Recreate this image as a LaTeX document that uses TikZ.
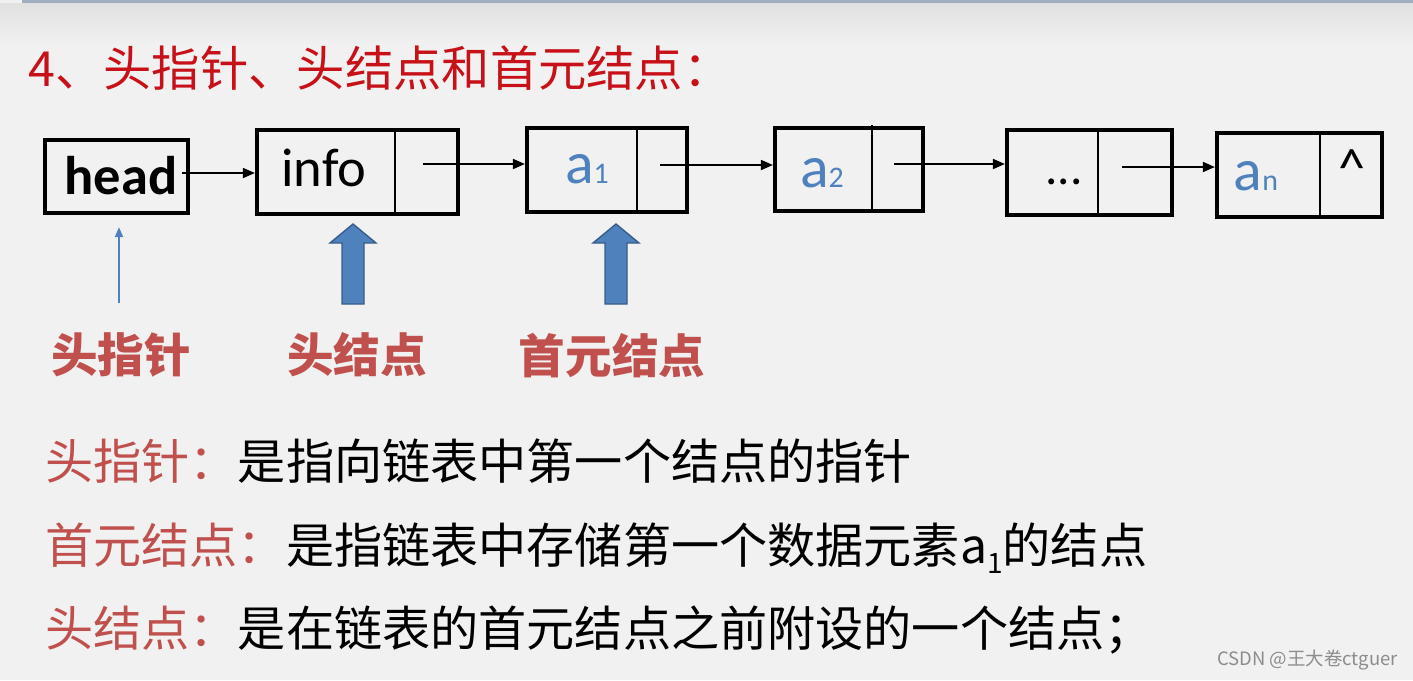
\documentclass[tikz,border=0pt]{standalone}
\usepackage{fontspec}
\setmainfont{Carlito}
\newfontfamily\cjk{Noto Sans CJK SC}
\usetikzlibrary{arrows.meta, positioning, calc}
\definecolor{titlered}{RGB}{200,16,24}
\definecolor{labelred}{RGB}{192,80,77}
\definecolor{datablue}{RGB}{79,129,189}
\definecolor{arrowedge}{RGB}{56,93,138}
\definecolor{slidebg}{RGB}{241,241,241}
\definecolor{topline}{RGB}{160,174,192}

\begin{document}
\begin{tikzpicture}[
	x=0.02cm, y=-0.02cm,
	cell/.style={rectangle, draw=black, line width=2.4pt, inner sep=0pt},
	divider/.style={line width=1.1pt},
	link/.style={-{Triangle[length=0.24cm, width=0.2cm]}, line width=1pt},
	ptr/.style={-{Triangle[length=0.2cm, width=0.16cm]}, draw=datablue, line width=1.1pt},
	data/.style={text=datablue, anchor=base, inner sep=0pt},
	tag/.style={font=\cjk\bfseries\fontsize{26.5}{30}\selectfont, text=labelred, inner sep=0pt},
	defline/.style={anchor=west, inner sep=0pt, font=\cjk\fontsize{27.4}{32}\selectfont},
	fatarrow/.style={fill=datablue, draw=arrowedge, line width=0.8pt, line join=miter}
	]
	
	\useasboundingbox (0,0) rectangle (1413,680);
	\fill[slidebg] (0,0) rectangle (1413,680);
	\shade[top color=black!12, bottom color=slidebg] (0,3) rectangle (1413,45);
	\draw[topline, line width=1.6pt] (22,1.5) -- (1413,1.5);
	
	\node[anchor=west, inner sep=0pt, text=titlered, font=\cjk\fontsize{27.5}{32}\selectfont] (title) at (28,68) {4、头指针、头结点和首元结点：};
	
	% list nodes
	\node[cell, minimum width=2.86cm, minimum height=1.46cm] (head) at (116.5,176.5) {};
	\node[cell, minimum width=4.02cm, minimum height=1.68cm] (info) at (357.5,172) {};
	\node[cell, minimum width=3.2cm, minimum height=1.68cm] (a1) at (607,170) {};
	\node[cell, minimum width=2.96cm, minimum height=1.66cm] (a2) at (849,169.5) {};
	\node[cell, minimum width=3.3cm, minimum height=1.7cm] (dots) at (1089.5,172.5) {};
	\node[cell, minimum width=3.3cm, minimum height=1.68cm] (an) at (1299.5,175) {};
	
	\draw[divider] (395,130) -- (395,214);
	\draw[divider] (637,128) -- (637,212);
	\draw[divider] (872,125) -- (872,211);
	\draw[divider] (1098,130) -- (1098,215);
	\draw[divider] (1320,133) -- (1320,217);
	
	\node[anchor=base, inner sep=0pt, font=\bfseries\fontsize{31}{36}\selectfont] (headtxt) at (121,194) {head};
	\node[anchor=base, inner sep=0pt, font=\fontsize{31}{36}\selectfont] (infotxt) at (324,186) {info};
	\node[data] (a1txt) at (587,183) {{\fontsize{34}{40}\selectfont a}{\fontsize{17}{20}\selectfont 1}};
	\node[data] (a2txt) at (822,187) {{\fontsize{34}{40}\selectfont a}{\fontsize{17}{20}\selectfont 2}};
	\node[anchor=base, inner sep=0pt, font=\fontsize{28}{32}\selectfont] (dotstxt) at (1064,184) {...};
	\node[data] (antxt) at (1256,190) {{\fontsize{34}{40}\selectfont a}{\fontsize{17}{20}\selectfont n}};
	\node[anchor=base, inner sep=0pt, font=\fontsize{31}{36}\selectfont] (nil) at (1352,186) {\char94};
	
	% pointers
	\coordinate (headp) at (182,173);
	\coordinate (infop) at (423,164);
	\coordinate (a1p) at (660,165);
	\coordinate (a2p) at (894,164);
	\coordinate (dotsp) at (1122,167);
	\draw[link] (headp) -- (headp -| info.west);
	\draw[link] (infop) -- (infop -| a1.west);
	\draw[link] (a1p) -- (a1p -| a2.west);
	\draw[link] (a2p) -- (a2p -| dots.west);
	\draw[link] (dotsp) -- (dotsp -| an.west);
	
	% markers below
	\coordinate (hptail) at (119,303);
	\draw[ptr, shorten >=0.24cm] (hptail) -- (hptail |- head.south);
	\foreach \cx in {353,616}
		\draw[fatarrow] (\cx-11,304) -- (\cx-11,243) -- (\cx-23,243) -- (\cx,224) -- (\cx+23,243) -- (\cx+11,243) -- (\cx+11,304) -- cycle;
	
	\node[tag] (hplabel) at (121,355) {头指针};
	\node[tag] (hnlabel) at (357,355) {头结点};
	\node[tag] (fnlabel) at (612,356) {首元结点};
	
	% definitions
	\node[defline] (def1) at (45,461) {\textcolor{labelred}{头指针：}是指向链表中第一个结点的指针};
	\node[defline] (def2) at (45,548) {\textcolor{labelred}{首元结点：}是指链表中存储第一个数据元素a\raisebox{-0.2em}{\fontsize{16}{16}\selectfont 1}的结点};
	\node[defline] (def3) at (45,630) {\textcolor{labelred}{头结点：}是在链表的首元结点之前附设的一个结点；};
	
	\node[anchor=east, inner sep=0pt, text=black!45, font=\cjk\fontsize{10.5}{12}\selectfont] (mark) at (1398,660) {CSDN @王大卷ctguer};
\end{tikzpicture}
\end{document}
